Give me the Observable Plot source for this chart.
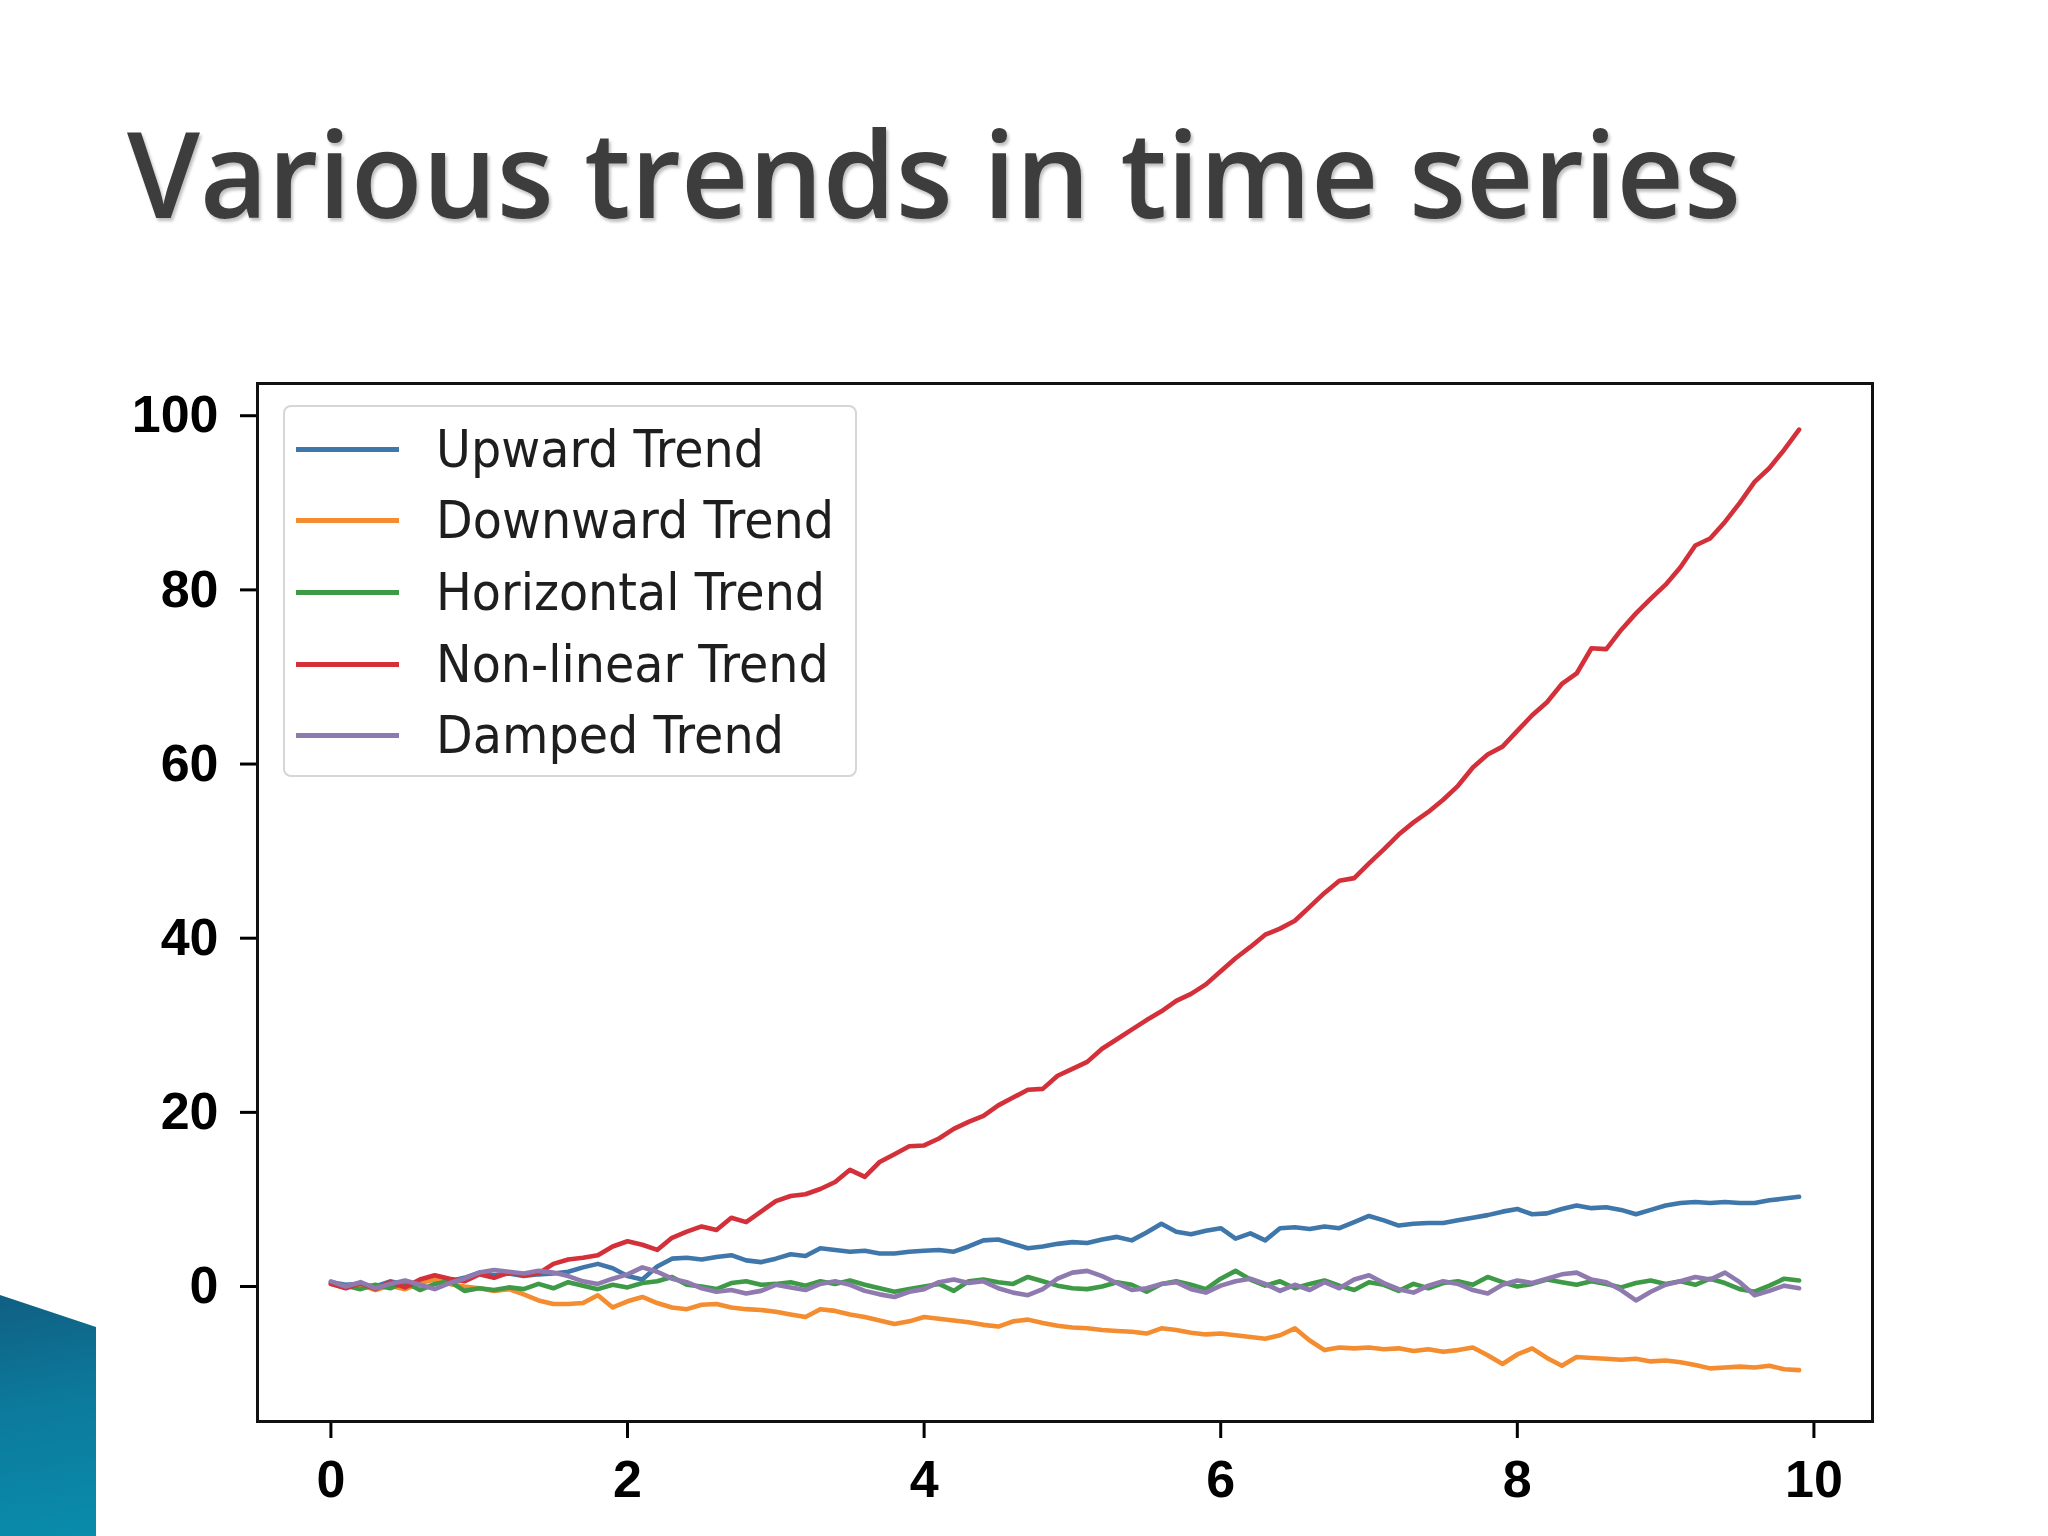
<!DOCTYPE html>
<html>
<head>
<meta charset="utf-8">
<script src="https://cdn.jsdelivr.net/npm/d3@7"></script>
<script src="https://cdn.jsdelivr.net/npm/@observablehq/plot@0.6"></script>
<style>
  html, body { margin: 0; padding: 0; background: #fff; }
  #page { position: relative; width: 2048px; height: 1536px; overflow: hidden; background: #fff; }
  #title { position: absolute; left: 0; top: 0; }
  #deco { position: absolute; left: 0; top: 1295px; width: 96px; height: 241px;
          background: linear-gradient(170deg, #105f82 0%, #0c7a9c 45%, #0a8cab 100%);
          clip-path: polygon(0 0, 100% 32px, 100% 100%, 0 100%); }
  #chart { position: absolute; left: 0; top: 300px; }
  #chart svg [aria-label="x-axis tick"], #chart svg [aria-label="y-axis tick"] { stroke-width: 3px; }
  #legend { position: absolute; left: 283px; top: 405px; width: 574px; height: 372px;
            border: 2px solid #d6d6d6; border-radius: 8px; background: rgba(255,255,255,0.85);
            box-sizing: border-box; }
  .row { position: absolute; left: 0; height: 0; }
  .sw { position: absolute; left: 11px; width: 103px; height: 0; border-top: 5px solid; margin-top: -2.5px; }
  .lab { position: absolute; left: 151px; top: 0; transform: translateY(-50%) scaleX(0.935); transform-origin: left center;
         font-family: "DejaVu Sans", sans-serif; font-size: 51px; color: #1e1e1e; white-space: nowrap; line-height: 1; }
</style>
</head>
<body>
<div id="page">
  <svg id="title" width="2048" height="300">
    <defs>
      <filter id="sh" x="-5%" y="-20%" width="110%" height="140%">
        <feDropShadow dx="2" dy="3" stdDeviation="1.5" flood-color="#000" flood-opacity="0.25"/>
      </filter>
    </defs>
    <text x="127" y="218" font-family="Open Sans, sans-serif" font-weight="600" font-size="120" fill="#3d3d3d"
          textLength="1614" lengthAdjust="spacingAndGlyphs" filter="url(#sh)">Various trends in time series</text>
  </svg>
  <div id="chart"></div>
  <div id="legend"></div>
  <div id="deco"></div>
</div>
<script>
// time index (x values)
const time = [0.0,0.1,0.2,0.3,0.4,0.5,0.6,0.7,0.8,0.9,
  1.0,1.1,1.2,1.3,1.4,1.5,1.6,1.7,1.8,1.9,
  2.0,2.1,2.2,2.3,2.4,2.5,2.6,2.7,2.8,2.9,
  3.0,3.1,3.2,3.3,3.4,3.5,3.6,3.7,3.8,3.9,
  4.0,4.1,4.2,4.3,4.4,4.5,4.6,4.7,4.8,4.9,
  5.0,5.1,5.2,5.3,5.4,5.5,5.6,5.7,5.8,5.9,
  6.0,6.1,6.2,6.3,6.4,6.5,6.6,6.7,6.8,6.9,
  7.0,7.1,7.2,7.3,7.4,7.5,7.6,7.7,7.8,7.9,
  8.0,8.1,8.2,8.3,8.4,8.5,8.6,8.7,8.8,8.9,
  9.0,9.1,9.2,9.3,9.4,9.5,9.6,9.7,9.8,9.9];

const upward = [0.5,0.2,0.3,0.0,0.6,0.2,0.5,0.9,0.6,1.0,
  1.6,1.3,1.5,1.2,1.4,1.5,1.7,2.2,2.6,2.1,
  1.2,0.8,2.3,3.2,3.3,3.1,3.4,3.6,3.0,2.8,
  3.2,3.7,3.5,4.4,4.2,4.0,4.1,3.8,3.8,4.0,
  4.1,4.2,4.0,4.6,5.3,5.4,4.9,4.4,4.6,4.9,
  5.1,5.0,5.4,5.7,5.3,6.2,7.2,6.3,6.0,6.4,
  6.7,5.5,6.1,5.3,6.7,6.8,6.6,6.9,6.7,7.4,
  8.1,7.6,7.0,7.2,7.3,7.3,7.6,7.9,8.2,8.6,
  8.9,8.3,8.4,8.9,9.3,9.0,9.1,8.8,8.3,8.8,
  9.3,9.6,9.7,9.6,9.7,9.6,9.6,9.9,10.1,10.3];

const downward = [0.3,-0.1,0.2,-0.4,0.1,-0.3,0.4,0.8,0.3,0.0,
  -0.2,-0.5,-0.3,-0.9,-1.6,-2.0,-2.0,-1.9,-1.0,-2.4,
  -1.7,-1.2,-1.9,-2.4,-2.6,-2.1,-2.0,-2.4,-2.6,-2.7,
  -2.9,-3.2,-3.5,-2.6,-2.8,-3.2,-3.5,-3.9,-4.3,-4.0,
  -3.5,-3.7,-3.9,-4.1,-4.4,-4.6,-4.0,-3.8,-4.2,-4.5,
  -4.7,-4.8,-5.0,-5.1,-5.2,-5.4,-4.8,-5.0,-5.3,-5.5,
  -5.4,-5.6,-5.8,-6.0,-5.6,-4.8,-6.2,-7.3,-7.0,-7.1,
  -7.0,-7.2,-7.1,-7.4,-7.2,-7.5,-7.3,-7.0,-7.9,-8.9,
  -7.8,-7.1,-8.2,-9.1,-8.1,-8.2,-8.3,-8.4,-8.3,-8.6,
  -8.5,-8.7,-9.0,-9.4,-9.3,-9.2,-9.3,-9.1,-9.5,-9.6];

const horizontal = [0.4,0.1,-0.3,0.2,-0.2,0.5,-0.4,0.3,0.6,-0.5,
  -0.2,-0.4,-0.1,-0.3,0.3,-0.2,0.5,0.1,-0.3,0.2,
  -0.1,0.4,0.6,1.1,0.2,0.0,-0.3,0.4,0.6,0.2,
  0.3,0.5,0.1,0.6,0.3,0.7,0.2,-0.2,-0.6,-0.3,
  0.0,0.3,-0.5,0.6,0.8,0.5,0.3,1.1,0.6,0.1,
  -0.2,-0.3,0.0,0.5,0.2,-0.6,0.3,0.6,0.2,-0.3,
  0.9,1.8,0.8,0.1,0.6,-0.2,0.3,0.7,0.1,-0.4,
  0.5,0.2,-0.5,0.3,-0.2,0.4,0.6,0.2,1.1,0.5,
  0.0,0.3,0.8,0.5,0.2,0.6,0.3,-0.1,0.4,0.7,
  0.3,0.6,0.2,0.9,0.4,-0.3,-0.6,0.1,0.9,0.7];

const nonlinear = [0.3,-0.2,0.4,-0.3,0.5,-0.1,0.8,1.3,0.9,0.6,
  1.4,1.0,1.6,1.3,1.5,2.6,3.1,3.3,3.6,4.6,
  5.2,4.8,4.2,5.6,6.3,6.9,6.5,7.9,7.4,8.6,
  9.8,10.4,10.6,11.2,12.0,13.4,12.6,14.3,15.2,16.1,
  16.2,17.0,18.1,18.9,19.6,20.8,21.7,22.6,22.7,24.2,
  25.0,25.8,27.3,28.4,29.5,30.6,31.6,32.8,33.6,34.7,
  36.2,37.7,39.0,40.4,41.1,42.0,43.6,45.2,46.6,46.9,
  48.6,50.2,51.9,53.3,54.5,55.9,57.5,59.6,61.1,62.0,
  63.8,65.6,67.1,69.2,70.4,73.3,73.2,75.4,77.3,79.0,
  80.6,82.6,85.1,85.9,87.8,90.0,92.4,94.0,96.1,98.4];

const damped = [0.6,0.0,0.5,-0.2,0.3,0.7,0.2,-0.3,0.4,0.9,
  1.6,1.9,1.7,1.5,1.8,1.6,1.2,0.6,0.3,0.9,
  1.4,2.2,1.7,0.9,0.5,-0.2,-0.6,-0.4,-0.8,-0.5,
  0.2,-0.1,-0.4,0.3,0.6,0.2,-0.5,-0.9,-1.2,-0.6,
  -0.3,0.5,0.8,0.4,0.6,-0.2,-0.7,-1.0,-0.3,0.9,
  1.6,1.8,1.2,0.4,-0.4,-0.2,0.3,0.5,-0.3,-0.7,
  0.1,0.6,0.9,0.3,-0.5,0.2,-0.4,0.5,-0.2,0.8,
  1.3,0.4,-0.3,-0.7,0.1,0.6,0.3,-0.4,-0.8,0.2,
  0.7,0.4,0.9,1.4,1.6,0.8,0.5,-0.4,-1.6,-0.6,
  0.2,0.6,1.1,0.8,1.6,0.5,-1.0,-0.5,0.1,-0.2];

const seriesNames = ["Upward Trend", "Downward Trend", "Horizontal Trend", "Non-linear Trend", "Damped Trend"];
const seriesValues = [upward, downward, horizontal, nonlinear, damped];
const seriesColors = ["#3f77ab", "#f48c30", "#3e9a47", "#d3303a", "#8f7ab0"];
const xTicks = [0, 2, 4, 6, 8, 10];
const yTicks = [0, 20, 40, 60, 80, 100];

const rows = seriesNames.flatMap((name, k) =>
  time.map((t, i) => ({t, v: seriesValues[k][i], series: name})));

const chart = Plot.plot({
  width: 2048,
  height: 1236,
  marginLeft: 257,
  marginRight: 176,
  marginTop: 83,
  marginBottom: 115,
  style: {fontFamily: "Liberation Sans, Arial, sans-serif", fontWeight: "bold", fontSize: "52px", color: "#000", background: "transparent", overflow: "visible"},
  x: {domain: [-0.495, 10.395], ticks: xTicks, tickSize: 17, tickPadding: 22, tickFormat: d => String(d), label: null},
  y: {domain: [-15.5, 103.7], ticks: yTicks, tickSize: 17, tickPadding: 22, tickFormat: d => String(d), label: null},
  color: {domain: seriesNames, range: seriesColors},
  marks: [
    Plot.line(rows, {x: "t", y: "v", z: "series", stroke: "series", strokeWidth: 4.6, strokeLinejoin: "round"}),
    Plot.frame({stroke: "#111", strokeWidth: 3})
  ]
});
document.getElementById("chart").appendChild(chart);

// legend inside the axes (upper left)
const legend = document.getElementById("legend");
const rowTops = [42, 113, 185, 257, 328];
seriesNames.forEach((name, k) => {
  const r = document.createElement("div");
  r.className = "row";
  r.style.top = rowTops[k] + "px";
  const sw = document.createElement("div");
  sw.className = "sw";
  sw.style.borderTopColor = seriesColors[k];
  const lab = document.createElement("div");
  lab.className = "lab";
  lab.textContent = name;
  r.appendChild(sw);
  r.appendChild(lab);
  legend.appendChild(r);
});
</script>
</body>
</html>
